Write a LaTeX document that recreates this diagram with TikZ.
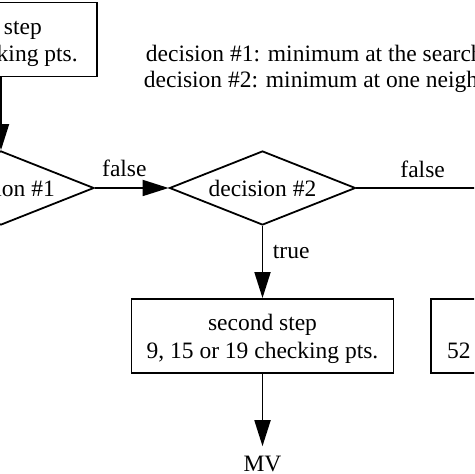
\documentclass[tikz,border=0pt]{standalone}
\usepackage{fontspec}
\setmainfont{Liberation Serif}
\usetikzlibrary{arrows.meta,shapes.geometric}
\begin{document}
\begin{tikzpicture}[x=0.5pt,y=-0.5pt,
  font=\fontsize{11.75}{13.85}\selectfont, line width=0.9pt,
  box/.style={draw, rectangle, minimum width=131pt, minimum height=37pt, align=center, inner sep=0pt},
  dec/.style={draw, diamond, minimum width=93pt, minimum height=37pt, inner sep=0pt, aspect=2.5},
  arr/.style={-{Triangle[length=13pt,width=8pt]}},
  lbl/.style={inner sep=0pt}]
\useasboundingbox (0,0) rectangle (474,474);
\clip (0,0) rectangle (474,474);

\node[box, minimum width=96pt] (b1) at (1,39.5) {\rule{0pt}{11pt}first step\\25 checking pts.};
\node[anchor=base west, lbl] (leg1) at (145,62) {decision \#1: minimum at the search center};
\node[anchor=base west, lbl] (leg2) at (143,88) {decision \#2: minimum at one neighboring point};

\node[dec] (d1) at (1,188) {decision \#1};
\node[dec] (d2) at (262.5,188) {decision \#2};
\coordinate (r) at (480,188);

\node[box] (b2) at (262.5,336) {\rule{0pt}{11pt}second step\\9, 15 or 19 checking pts.};
\node[box, align=left, text width=115pt, inner xsep=8pt] (b3) at (562,336) {\rule{0pt}{11pt}\\52 checking pts.};
\node[inner sep=4.5pt] (mv) at (262.5,464) {MV};

\draw[arr] (b1) -- (d1);
\draw[arr] (d1) -- node[lbl, pos=.4, anchor=base, yshift=5.5pt] (f1) {false} (d2);
\draw (d2) -- node[lbl, pos=.536, anchor=base, yshift=5pt] (f2) {false} (r);
\draw[arr] (d2) -- node[lbl, pos=.45, anchor=base west, xshift=4.75pt] (t1) {true} (b2);
\draw[arr] (b2) -- (mv);
\end{tikzpicture}
\end{document}
